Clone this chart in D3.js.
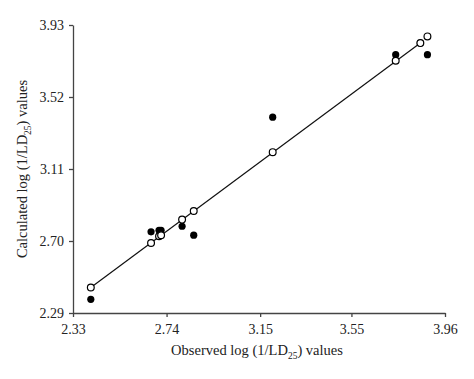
<!DOCTYPE html>
<html>
<head>
<meta charset="utf-8">
<script src="https://cdn.jsdelivr.net/npm/d3@7"></script>
<style>
  body { margin: 0; background: #fff; }
  svg text { font-family: "Liberation Serif", "DejaVu Serif", serif; fill: #222; }
</style>
</head>
<body>
<svg id="chart" width="474" height="379"></svg>
<script>
// observed log(1/LD25) for each compound
var observed = [2.408, 2.672, 2.707, 2.716, 2.808, 2.859, 3.205, 3.744, 3.852, 3.883];
// experimental (filled) and calculated (open) values
var filledVals = [2.368, 2.752, 2.761, 2.761, 2.784, 2.733, 3.405, 3.761, 3.827, 3.761];
var openVals = [2.435, 2.689, 2.727, 2.733, 2.822, 2.871, 3.206, 3.726, 3.827, 3.865];
// fitted line end points
var fitX = [2.408, 3.852];
var fitY = [2.435, 3.827];

var xTicks = [2.33, 2.74, 3.15, 3.55, 3.96];
var yTicks = [2.29, 2.70, 3.11, 3.52, 3.93];

var margin = {top: 25, right: 29, bottom: 66, left: 73},
    width = 474 - margin.left - margin.right,
    height = 379 - margin.top - margin.bottom;

var svg = d3.select("#chart");
var chart = svg.append("g")
    .attr("transform", "translate(" + margin.left + "," + margin.top + ")");

var x = d3.scaleLinear().domain([2.33, 3.96]).range([0, width]);
var y = d3.scaleLinear().domain([2.29, 3.93]).range([height, 0]);

var xAxis = d3.axisBottom(x).tickValues(xTicks).tickSize(4).tickSizeOuter(0)
    .tickFormat(d3.format(".2f")).tickPadding(7);
var yAxis = d3.axisLeft(y).tickValues(yTicks).tickSize(4).tickSizeOuter(0)
    .tickFormat(d3.format(".2f")).tickPadding(5);

chart.append("g")
    .attr("class", "x axis")
    .attr("transform", "translate(0," + height + ")")
    .call(xAxis);

chart.append("g")
    .attr("class", "y axis")
    .call(yAxis);

chart.selectAll(".axis path, .axis line").attr("stroke", "#444").attr("stroke-width", 1.3);
chart.selectAll(".axis text").attr("font-size", 14)
    .style("font-family", "'Liberation Serif', 'DejaVu Serif', serif").attr("fill", "#222");

// regression line
chart.append("line")
    .attr("x1", x(fitX[0])).attr("y1", y(fitY[0]))
    .attr("x2", x(fitX[1])).attr("y2", y(fitY[1]))
    .attr("stroke", "#111").attr("stroke-width", 1.2);

// filled points
chart.selectAll(".filled")
    .data(observed.map(function(d, i) { return [d, filledVals[i]]; }))
    .enter().append("circle")
    .attr("class", "filled")
    .attr("cx", function(d) { return x(d[0]); })
    .attr("cy", function(d) { return y(d[1]); })
    .attr("r", 3.6)
    .attr("fill", "#000");

// open points
chart.selectAll(".open")
    .data(observed.map(function(d, i) { return [d, openVals[i]]; }))
    .enter().append("circle")
    .attr("class", "open")
    .attr("cx", function(d) { return x(d[0]); })
    .attr("cy", function(d) { return y(d[1]); })
    .attr("r", 3.4)
    .attr("fill", "#fff")
    .attr("stroke", "#000")
    .attr("stroke-width", 1.2);

// axis titles
var xt = svg.append("text")
    .attr("x", margin.left + width / 2 - 2)
    .attr("y", 355)
    .attr("text-anchor", "middle")
    .attr("font-size", 14.5);
xt.append("tspan").text("Observed log (1/LD");
xt.append("tspan").attr("font-size", 9.5).attr("dy", 4).text("25");
xt.append("tspan").attr("dy", -4).text(") values");

var yt = svg.append("text")
    .attr("transform", "translate(27," + (margin.top + height / 2) + ") rotate(-90)")
    .attr("text-anchor", "middle")
    .attr("font-size", 14.5);
yt.append("tspan").text("Calculated log (1/LD");
yt.append("tspan").attr("font-size", 9.5).attr("dy", 4).text("25");
yt.append("tspan").attr("dy", -4).text(") values");
</script>
</body>
</html>
